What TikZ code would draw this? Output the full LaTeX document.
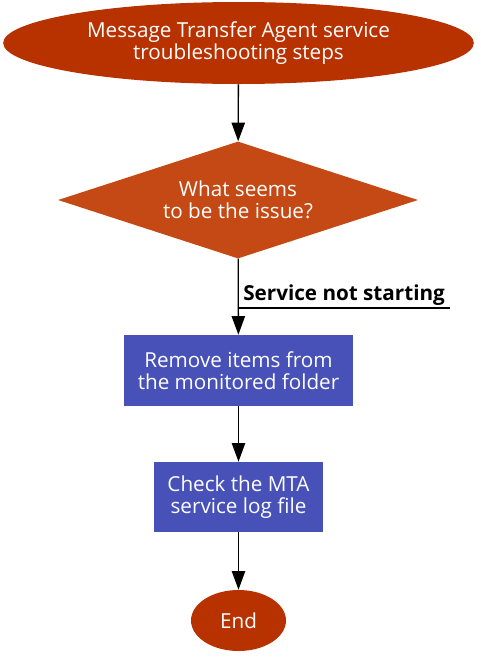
\documentclass[tikz,border=0pt]{standalone}
\usepackage{fontspec}
\setmainfont{Open Sans}
\usetikzlibrary{shapes.geometric,arrows.meta}
\definecolor{ruggine}{HTML}{B83200}
\definecolor{arancio}{HTML}{C44914}
\definecolor{viola}{HTML}{4751B8}

\begin{document}
\begin{tikzpicture}[
      x=0.75pt, y=-0.75pt,
      every node/.style={text=white, align=center, inner sep=0pt,
        font=\fontsize{15.5}{16.5}\selectfont},
      terminale/.style={ellipse, fill=ruggine},
      decisione/.style={diamond, fill=arancio, aspect=3},
      passo/.style={rectangle, fill=viola},
      etichetta/.style={text=black, inner xsep=3.75pt, inner ysep=2pt,
        font=\fontsize{15.5}{16.5}\selectfont\bfseries},
      freccia/.style={draw=black, line width=1pt, -{Triangle[length=14pt, width=10pt]}}
    ]
    \useasboundingbox (0,0) rectangle (480,657);
    \node[terminale, minimum width=353pt, minimum height=61.5pt] (inizio) at (238.5,43)
      {Message Transfer Agent service\\troubleshooting steps};
    \node[decisione, minimum width=270pt, minimum height=87.75pt] (domanda) at (238,200)
      {What seems\\to be the issue?};
    \node[passo, minimum width=171.75pt, minimum height=53.25pt] (rimuovi) at (238.5,370.5)
      {Remove items from\\the monitored folder};
    \node[passo, minimum width=126.75pt, minimum height=52.5pt] (log) at (238.5,497)
      {Check the MTA\\service log file};
    \node[terminale, minimum width=71.25pt, minimum height=45.75pt] (fine) at (238.5,620.5)
      {End};
    % Frecce
    \draw[freccia] (inizio) -- (domanda);
    \draw[freccia] (domanda) -- (rimuovi);
    \draw[freccia] (rimuovi) -- (log);
    \draw[freccia] (log) -- (fine);
    % Etichetta del ramo
    \node[etichetta, anchor=south west] (ramo) at (238,308) {Service not starting};
    \draw[line width=1pt] (ramo.south west) -- (ramo.south east);
  \end{tikzpicture}
\end{document}
